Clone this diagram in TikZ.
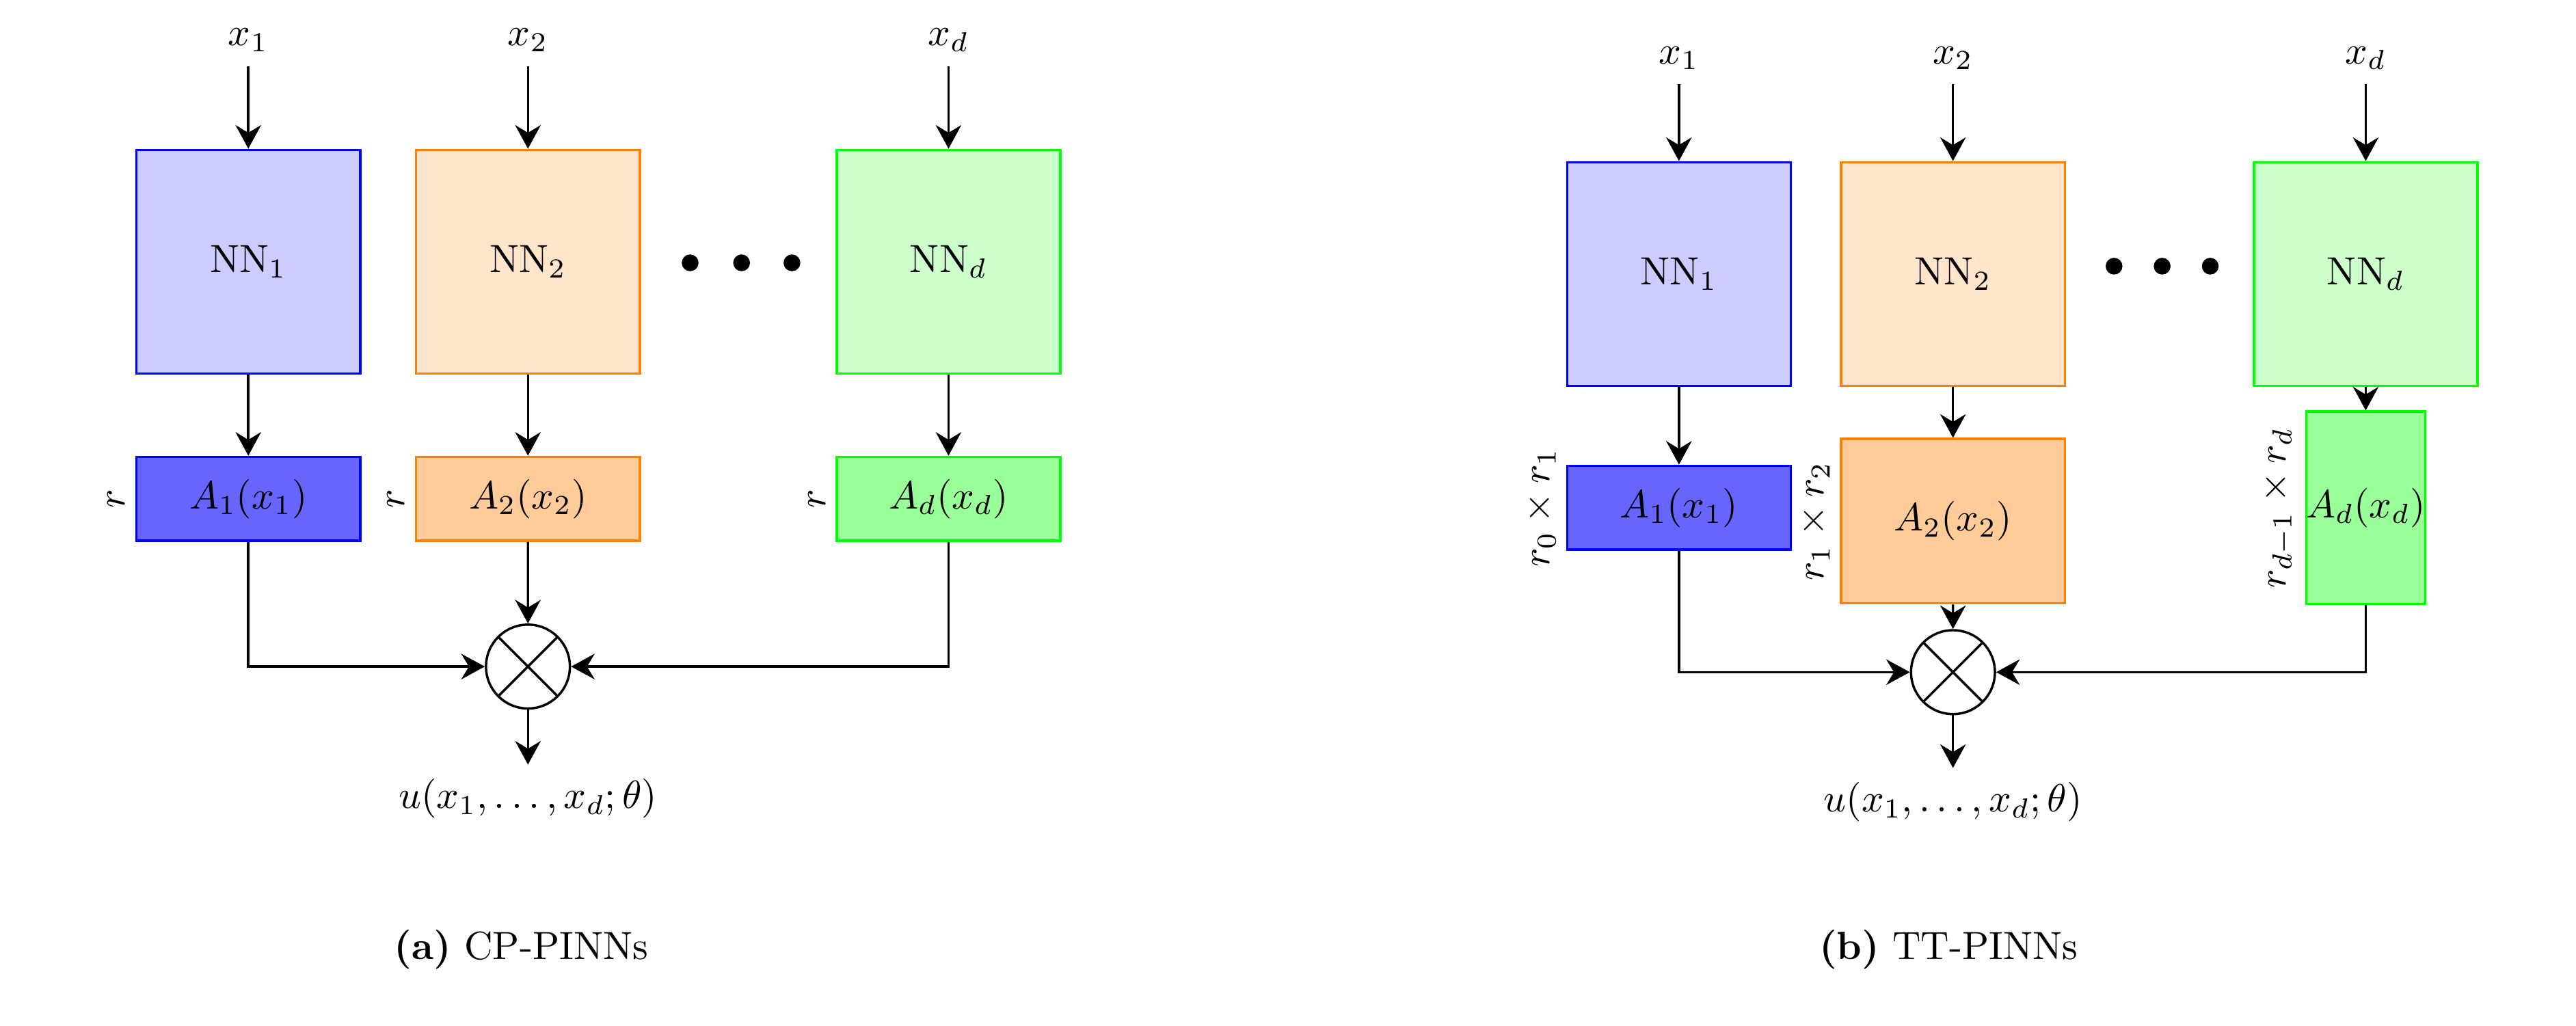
\documentclass[tikz,border=0pt]{standalone}
\usepackage{amsmath}
\usepackage{amssymb}
\usetikzlibrary{arrows.meta,positioning}

\begin{document}
\begin{tikzpicture}[>={Stealth[length=6pt,width=6.5pt]}, semithick]
 \tikzstyle{nn}=[draw, minimum width=2cm, minimum height=2cm]
 \tikzstyle{core}=[draw, minimum width=2cm, minimum height=0.75cm]
 \tikzstyle{prod}=[draw, circle, minimum size=0.75cm, path picture={
   \draw (path picture bounding box.north west) -- (path picture bounding box.south east);
   \draw (path picture bounding box.north east) -- (path picture bounding box.south west);}]
 \tikzstyle{rk}=[rotate=90, anchor=south, inner sep=2.3pt]
 \tikzstyle{bl}=[draw=blue, fill=blue!20]
 \tikzstyle{blA}=[draw=blue, fill=blue!60]
 \tikzstyle{or}=[draw=orange, fill=orange!20]
 \tikzstyle{orA}=[draw=orange, fill=orange!40]
 \tikzstyle{gr}=[draw=green, fill=green!20]
 \tikzstyle{grA}=[draw=green, fill=green!40]
 \useasboundingbox (0,0) rectangle (23.03,-9.17);

 % (a) CP-PINNs
 \node[nn,bl] (nn1) at (2.22,-2.34) {$\mathrm{NN}_1$};
 \node[nn,or] (nn2) [right of=nn1, node distance=2.5cm] {$\mathrm{NN}_2$};
 \node[nn,gr] (nnd) [right of=nn2, node distance=3.76cm] {$\mathrm{NN}_d$};
 \node (x1) [above of=nn1, node distance=1.98cm] {$x_1$};
 \node (x2) [above of=nn2, node distance=1.98cm] {$x_2$};
 \node (xd) [above of=nnd, node distance=1.98cm] {$x_d$};
 \node[core,blA] (a1) [below of=nn1, node distance=2.12cm] {$A_1(x_1)$};
 \node[core,orA] (a2) [below of=nn2, node distance=2.12cm] {$A_2(x_2)$};
 \node[core,grA] (ad) [below of=nnd, node distance=2.12cm] {$A_d(x_d)$};
 \node[rk] (r1) at (a1.west) {$r$};
 \node[rk] (r2) at (a2.west) {$r$};
 \node[rk] (rd) at (ad.west) {$r$};
 \node[prod] (p) at (4.72,-5.96) {};
 \node (u) [below of=p, node distance=1.18cm] {$u(x_1,\ldots,x_d;\theta)$};
 \foreach \x in {6.17,6.63,7.08} \fill (\x,-2.35) circle (0.075);
  \draw[->] (x1) -- (nn1);
  \draw[->] (x2) -- (nn2);
  \draw[->] (xd) -- (nnd);
  \draw[->] (nn1) -- (a1);
  \draw[->] (nn2) -- (a2);
  \draw[->] (nnd) -- (ad);
  \draw[->] (a1.south) |- (p.west);
  \draw[->] (a2) -- (p);
  \draw[->] (ad.south) |- (p.east);
  \draw[->] (p) -- (u);
 \node (capa) at (4.66,-8.49) {\textbf{(a)} CP-PINNs};

 % (b) TT-PINNs
 \node[nn,bl] (tnn1) at (15.01,-2.45) {$\mathrm{NN}_1$};
 \node[nn,or] (tnn2) [right of=tnn1, node distance=2.45cm] {$\mathrm{NN}_2$};
 \node[nn,gr] (tnnd) [right of=tnn2, node distance=3.69cm] {$\mathrm{NN}_d$};
 \node (tx1) [above of=tnn1, node distance=1.93cm] {$x_1$};
 \node (tx2) [above of=tnn2, node distance=1.93cm] {$x_2$};
 \node (txd) [above of=tnnd, node distance=1.93cm] {$x_d$};
 \node[core,blA] (ta1) [below of=tnn1, node distance=2.09cm] {$A_1(x_1)$};
 \node[core,orA,minimum height=1.47cm] (ta2) [below of=tnn2, node distance=2.21cm] {$A_2(x_2)$};
 \node[core,grA,minimum width=0.98cm,minimum height=1.72cm,inner xsep=0pt] (tad) [below of=tnnd, node distance=2.09cm] {$A_d(x_d)$};
 \node[rk] (tr1) at (ta1.west) {$r_0\times r_1$};
 \node[rk] (tr2) at (ta2.west) {$r_1\times r_2$};
 \node[rk] (trd) at (tad.west) {$r_{d-1}\times r_d$};
 \node[prod] (tp) at (17.46,-6.01) {};
 \node (tu) [below of=tp, node distance=1.16cm] {$u(x_1,\ldots,x_d;\theta)$};
 \foreach \x in {18.90,19.33,19.76} \fill (\x,-2.38) circle (0.075);
  \draw[->] (tx1) -- (tnn1);
  \draw[->] (tx2) -- (tnn2);
  \draw[->] (txd) -- (tnnd);
  \draw[->] (tnn1) -- (ta1);
  \draw[->] (tnn2) -- (ta2);
  \draw[->] (tnnd) -- (tad);
  \draw[->] (ta1.south) |- (tp.west);
  \draw[->] (ta2) -- (tp);
  \draw[->] (tad.south) |- (tp.east);
  \draw[->] (tp) -- (tu);
 \node (capb) at (17.42,-8.49) {\textbf{(b)} TT-PINNs};
\end{tikzpicture}
\end{document}
